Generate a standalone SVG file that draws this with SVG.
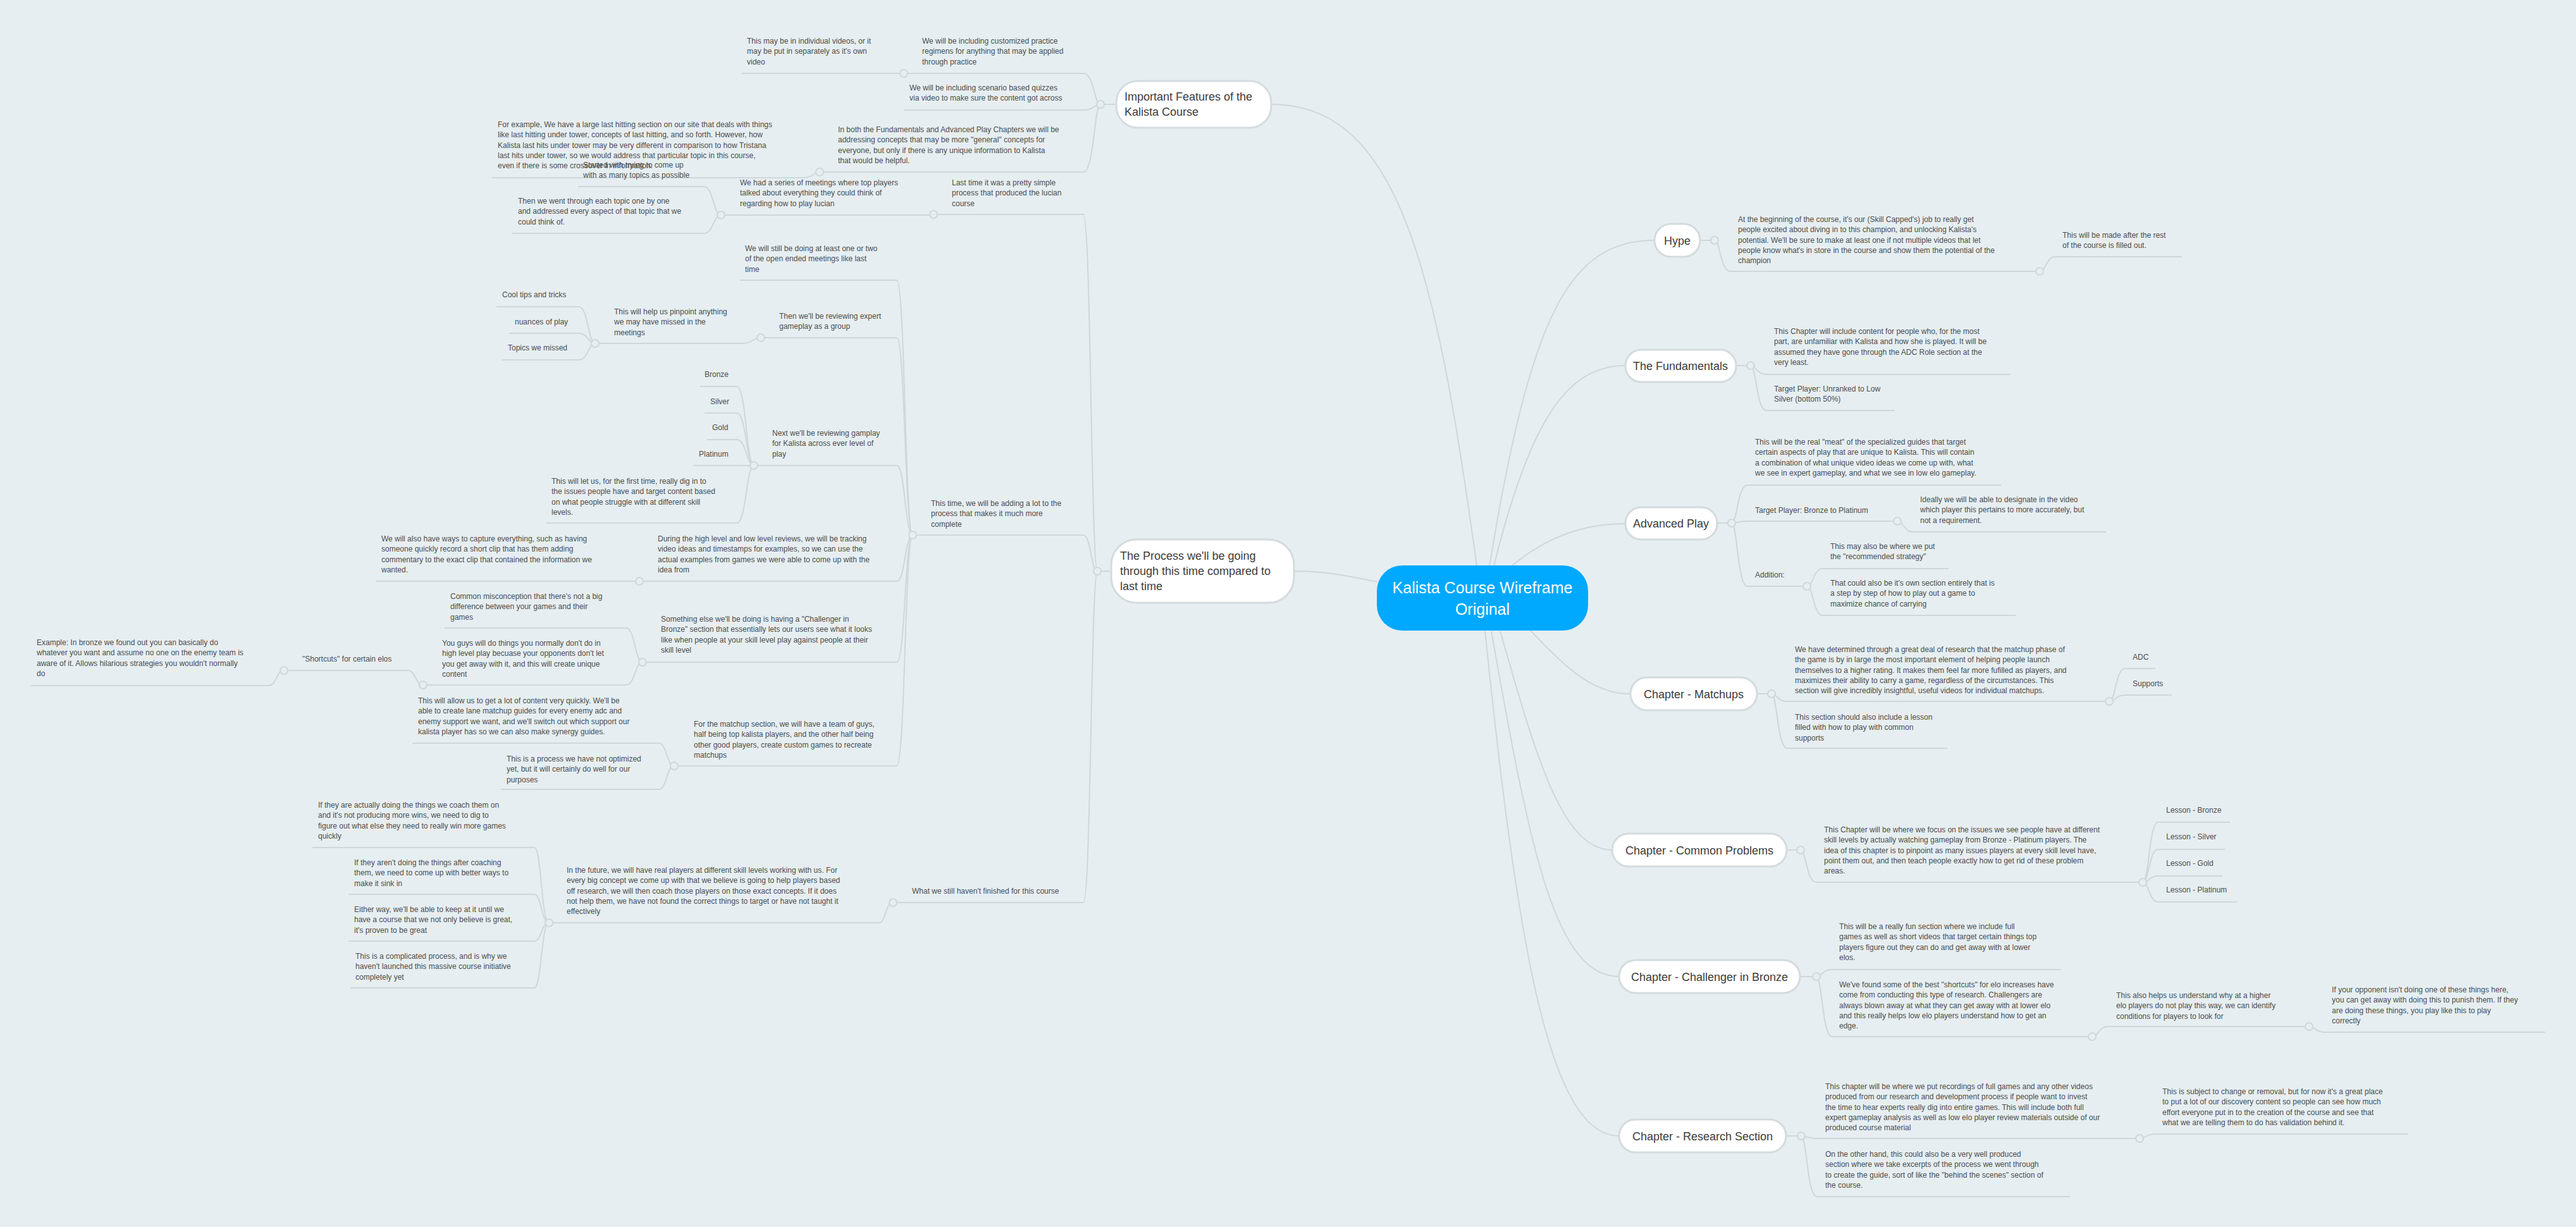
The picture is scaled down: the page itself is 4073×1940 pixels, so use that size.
<svg xmlns="http://www.w3.org/2000/svg" width="4073" height="1940" viewBox="0 0 4073 1940">
<style>
.t{font-family:"Liberation Sans",Arial,sans-serif;font-size:12px;fill:#4d4d4d}
.tt{font-family:"Liberation Sans",Arial,sans-serif;font-size:18px;fill:#3c3c3c}
.ct{font-family:"Liberation Sans",Arial,sans-serif;font-size:25px;fill:#ffffff}
.ln{stroke:#cfd7db;stroke-width:2;fill:none}
.cn{stroke:#cfd7db;stroke-width:2;fill:none}
.j{fill:#e6eef1;stroke:#cfd7db;stroke-width:2}
.pill{fill:#ffffff;stroke:#d4dbde;stroke-width:3}
</style>
<rect width="4073" height="1940" fill="#e6eef1"/>
<g id="connectors">
<path class="cn" d="M2335 895 C2270 420 2210 165 2010 165"/>
<path class="cn" d="M2178 920 C2120 908 2090 903 2046 903"/>
<path class="cn" d="M2355 895 C2420 500 2480 380 2616 380"/>
<path class="cn" d="M2362 895 C2420 660 2480 578 2570 578"/>
<path class="cn" d="M2390 895 C2450 845 2510 828 2570 828"/>
<path class="cn" d="M2420 997 C2480 1060 2520 1097 2578 1097"/>
<path class="cn" d="M2372 998 C2430 1200 2470 1344 2550 1344"/>
<path class="cn" d="M2358 998 C2420 1350 2460 1544 2560 1544"/>
<path class="cn" d="M2348 998 C2400 1500 2450 1796 2560 1796"/>
<!-- features -->
<path class="cn" d="M1765 165 L1746 165"/>
<path class="cn" d="M1740 165 C1730 165 1730 116 1713 116"/>
<path class="cn" d="M1740 165 C1730 165 1730 174 1713 174"/>
<path class="cn" d="M1740 165 C1730 165 1730 272 1713 272"/>
<path class="cn" d="M1296 272 C1286 272 1286 281 1270 281"/>
<!-- process -->
<path class="cn" d="M1757 903 L1741 903"/>
<path class="cn" d="M1735 903 C1725 903 1725 339 1713 339"/>
<path class="cn" d="M1735 903 C1725 903 1725 846 1713 846"/>
<path class="cn" d="M1735 903 C1725 903 1725 1427 1713 1427"/>
<path class="cn" d="M1140 340 C1128 340 1128 295 1113 295"/>
<path class="cn" d="M1140 340 C1128 340 1128 369 1113 369"/>
<path class="cn" d="M1443 846 C1431 846 1431 443 1418 443"/>
<path class="cn" d="M1443 846 C1431 846 1431 534 1418 534"/>
<path class="cn" d="M1443 846 C1431 846 1431 736 1418 736"/>
<path class="cn" d="M1443 846 C1431 846 1431 919 1418 919"/>
<path class="cn" d="M1443 846 C1431 846 1431 1047 1418 1047"/>
<path class="cn" d="M1443 846 C1431 846 1431 1211 1418 1211"/>
<path class="cn" d="M1203 534 C1190 534 1190 543 1175 543"/>
<path class="cn" d="M941 543 C930 543 930 485 915 485"/>
<path class="cn" d="M941 543 C930 543 930 527 915 527"/>
<path class="cn" d="M941 543 C930 543 930 569 915 569"/>
<path class="cn" d="M1192 736 C1180 736 1180 611 1165 611"/>
<path class="cn" d="M1192 736 C1180 736 1180 653 1165 653"/>
<path class="cn" d="M1192 736 C1180 736 1180 695 1165 695"/>
<path class="cn" d="M1192 736 L1165 736"/>
<path class="cn" d="M1192 736 C1180 736 1180 827 1165 827"/>
<path class="cn" d="M1016 1047 C1004 1047 1004 993 990 993"/>
<path class="cn" d="M1016 1047 C1004 1047 1004 1083 990 1083"/>
<path class="cn" d="M669 1083 C657 1083 657 1060 645 1060"/>
<path class="cn" d="M449 1060 C437 1060 437 1084 425 1084"/>
<path class="cn" d="M1066 1211 C1054 1211 1054 1175 1042 1175"/>
<path class="cn" d="M1066 1211 C1054 1211 1054 1248 1042 1248"/>
<path class="cn" d="M1412 1427 C1400 1427 1400 1459 1390 1459"/>
<path class="cn" d="M868 1459 C856 1459 856 1340 845 1340"/>
<path class="cn" d="M868 1459 C856 1459 856 1414 845 1414"/>
<path class="cn" d="M868 1459 C856 1459 856 1488 845 1488"/>
<path class="cn" d="M868 1459 C856 1459 856 1562 845 1562"/>
<!-- right side -->
<path class="cn" d="M2688 380 L2705 380"/>
<path class="cn" d="M2711 380 C2720 380 2720 429 2736 429"/>
<path class="cn" d="M3225 429 C3235 429 3235 406 3250 406"/>
<path class="cn" d="M2745 578 L2762 578"/>
<path class="cn" d="M2768 578 C2777 578 2777 592 2793 592"/>
<path class="cn" d="M2768 578 C2777 578 2777 649 2793 649"/>
<path class="cn" d="M2715 827 L2732 827"/>
<path class="cn" d="M2738 827 C2747 827 2747 767 2763 767"/>
<path class="cn" d="M2738 827 C2747 827 2747 824 2763 824"/>
<path class="cn" d="M2738 827 C2747 827 2747 927 2763 927"/>
<path class="cn" d="M3000 824 C3010 824 3010 841 3025 841"/>
<path class="cn" d="M2857 927 C2867 927 2867 899 2882 899"/>
<path class="cn" d="M2857 927 C2867 927 2867 973 2882 973"/>
<path class="cn" d="M2778 1097 L2795 1097"/>
<path class="cn" d="M2801 1097 C2810 1097 2810 1109 2826 1109"/>
<path class="cn" d="M2801 1097 C2810 1097 2810 1183 2826 1183"/>
<path class="cn" d="M3335 1109 C3345 1109 3345 1057 3360 1057"/>
<path class="cn" d="M3335 1109 C3345 1109 3345 1099 3360 1099"/>
<path class="cn" d="M2825 1344 L2841 1344"/>
<path class="cn" d="M2847 1344 C2856 1344 2856 1395 2872 1395"/>
<path class="cn" d="M3388 1395 C3398 1395 3398 1300 3412 1300"/>
<path class="cn" d="M3388 1395 C3398 1395 3398 1343 3412 1343"/>
<path class="cn" d="M3388 1395 C3398 1395 3398 1385 3412 1385"/>
<path class="cn" d="M3388 1395 C3398 1395 3398 1426 3412 1426"/>
<path class="cn" d="M2846 1544 L2866 1544"/>
<path class="cn" d="M2872 1544 C2881 1544 2881 1533 2897 1533"/>
<path class="cn" d="M2872 1544 C2881 1544 2881 1639 2897 1639"/>
<path class="cn" d="M3308 1639 C3318 1639 3318 1623 3333 1623"/>
<path class="cn" d="M3651 1623 C3661 1623 3661 1632 3676 1632"/>
<path class="cn" d="M2824 1796 L2842 1796"/>
<path class="cn" d="M2848 1796 C2857 1796 2857 1800 2873 1800"/>
<path class="cn" d="M2848 1796 C2857 1796 2857 1892 2873 1892"/>
<path class="cn" d="M3383 1800 C3393 1800 3393 1793 3408 1793"/>
</g>

<g id="central"><rect x="2177" y="894" width="334" height="103" rx="40" fill="#00a9fe"/>
<text class="ct" x="2344" y="938" text-anchor="middle">Kalista Course Wireframe</text><text class="ct" x="2344" y="972" text-anchor="middle">Original</text></g>

<g id="features"><rect class="pill" x="1765" y="128" width="245" height="74" rx="34"/>
<text class="tt" x="1778" y="159">Important Features of the</text><text class="tt" x="1778" y="183">Kalista Course</text><circle class="j" cx="1740" cy="165" r="6"/></g>
<g id="n1"><text class="t" x="1181" y="69">This may be in individual videos, or it<tspan x="1181" dy="16.3">may be put in separately as it's own</tspan><tspan x="1181" dy="16.3">video</tspan></text><path class="ln" d="M1173 116 H1423"/></g>
<g id="n2"><text class="t" x="1458" y="69">We will be including customized practice<tspan x="1458" dy="16.3">regimens for anything that may be applied</tspan><tspan x="1458" dy="16.3">through practice</tspan></text><path class="ln" d="M1435 116 H1713"/><circle class="j" cx="1429" cy="116" r="6"/></g>
<g id="n3"><text class="t" x="1438" y="143">We will be including scenario based quizzes<tspan x="1438" dy="16.3">via video to make sure the content got across</tspan></text><path class="ln" d="M1429 174 H1713"/></g>
<g id="n4"><text class="t" x="1325" y="209">In both the Fundamentals and Advanced Play Chapters we will be<tspan x="1325" dy="16.3">addressing concepts that may be more "general" concepts for</tspan><tspan x="1325" dy="16.3">everyone, but only if there is any unique information to Kalista</tspan><tspan x="1325" dy="16.3">that would be helpful.</tspan></text><path class="ln" d="M1302 272 H1713"/><circle class="j" cx="1296" cy="272" r="6"/></g>
<g id="n5"><text class="t" x="787" y="201">For example, We have a large last hitting section on our site that deals with things<tspan x="787" dy="16.3">like last hitting under tower, concepts of last hitting, and so forth.  However, how</tspan><tspan x="787" dy="16.3">Kalista last hits under tower may be very different in comparison to how Tristana</tspan><tspan x="787" dy="16.3">last hits under tower, so we would address that particular topic in this course,</tspan><tspan x="787" dy="16.3">even if there is some crossover in information.</tspan></text><path class="ln" d="M778 281 H1270"/></g>

<g id="process"><rect class="pill" x="1757" y="853" width="289" height="100" rx="40"/>
<text class="tt" x="1771" y="885">The Process we'll be going</text><text class="tt" x="1771" y="909">through this time compared to</text><text class="tt" x="1771" y="933">last time</text><circle class="j" cx="1735" cy="903" r="6"/></g>
<g id="p1"><text class="t" x="1505" y="293">Last time it was a pretty simple<tspan x="1505" dy="16.3">process that produced the lucian</tspan><tspan x="1505" dy="16.3">course</tspan></text><path class="ln" d="M1482 339 H1713"/><circle class="j" cx="1476" cy="339" r="6"/></g>
<g id="p1a"><text class="t" x="1170" y="293">We had a series of meetings where top players<tspan x="1170" dy="16.3">talked about everything they could think of</tspan><tspan x="1170" dy="16.3">regarding how to play lucian</tspan></text><path class="ln" d="M1146 340 H1470"/><circle class="j" cx="1140" cy="340" r="6"/></g>
<g id="p1a1"><text class="t" x="922" y="265">Started with trying to come up<tspan x="922" dy="16.3">with as many topics as possible</tspan></text><path class="ln" d="M914 295 H1113"/></g>
<g id="p1a2"><text class="t" x="819" y="322">Then we went through each topic one by one<tspan x="819" dy="16.3">and addressed every aspect of that topic that we</tspan><tspan x="819" dy="16.3">could think of.</tspan></text><path class="ln" d="M810 369 H1113"/></g>
<g id="p2"><text class="t" x="1472" y="800">This time, we will be adding a lot to the<tspan x="1472" dy="16.3">process that makes it much more</tspan><tspan x="1472" dy="16.3">complete</tspan></text><path class="ln" d="M1449 846 H1713"/><circle class="j" cx="1443" cy="846" r="6"/></g>
<g id="q1"><text class="t" x="1178" y="397">We will still be doing at least one or two<tspan x="1178" dy="16.3">of the open ended meetings like last</tspan><tspan x="1178" dy="16.3">time</tspan></text><path class="ln" d="M1170 443 H1418"/></g>
<g id="q2"><text class="t" x="1232" y="504">Then we'll be reviewing expert<tspan x="1232" dy="16.3">gameplay as a group</tspan></text><path class="ln" d="M1209 534 H1418"/><circle class="j" cx="1203" cy="534" r="6"/></g>
<g id="q2a"><text class="t" x="971" y="497">This will help us pinpoint anything<tspan x="971" dy="16.3">we may have missed in the</tspan><tspan x="971" dy="16.3">meetings</tspan></text><path class="ln" d="M947 543 H1175"/><circle class="j" cx="941" cy="543" r="6"/></g>
<g id="q2a1"><text class="t" x="794" y="470">Cool tips and tricks</text><path class="ln" d="M785 485 H915"/></g>
<g id="q2a2"><text class="t" x="814" y="513">nuances of play</text><path class="ln" d="M805 527 H915"/></g>
<g id="q2a3"><text class="t" x="803" y="554">Topics we missed</text><path class="ln" d="M794 569 H915"/></g>
<g id="q3"><text class="t" x="1221" y="689">Next we'll be reviewing gamplay<tspan x="1221" dy="16.3">for Kalista across ever level of</tspan><tspan x="1221" dy="16.3">play</tspan></text><path class="ln" d="M1198 736 H1418"/><circle class="j" cx="1192" cy="736" r="6"/></g>
<g id="q3a"><text class="t" x="1114" y="596">Bronze</text><path class="ln" d="M1107 611 H1165"/></g>
<g id="q3b"><text class="t" x="1123" y="639">Silver</text><path class="ln" d="M1114 653 H1165"/></g>
<g id="q3c"><text class="t" x="1126" y="680">Gold</text><path class="ln" d="M1118 695 H1165"/></g>
<g id="q3d"><text class="t" x="1105" y="722">Platinum</text><path class="ln" d="M1096 736 H1165"/></g>
<g id="q3e"><text class="t" x="872" y="765">This will let us, for the first time, really dig in to<tspan x="872" dy="16.3">the issues people have and target content based</tspan><tspan x="872" dy="16.3">on what people struggle with at different skill</tspan><tspan x="872" dy="16.3">levels.</tspan></text><path class="ln" d="M864 827 H1165"/></g>
<g id="q4"><text class="t" x="1040" y="856">During the high level and low level reviews, we will be tracking<tspan x="1040" dy="16.3">video ideas and timestamps for examples, so we can use the</tspan><tspan x="1040" dy="16.3">actual examples from games we were able to come up with the</tspan><tspan x="1040" dy="16.3">idea from</tspan></text><path class="ln" d="M1017 919 H1418"/><circle class="j" cx="1011" cy="919" r="6"/></g>
<g id="q4a"><text class="t" x="603" y="856">We will also have ways to capture everything, such as having<tspan x="603" dy="16.3">someone quickly record a short clip that has them adding</tspan><tspan x="603" dy="16.3">commentary to the exact clip that contained the information we</tspan><tspan x="603" dy="16.3">wanted.</tspan></text><path class="ln" d="M594 919 H1005"/></g>
<g id="q5"><text class="t" x="1045" y="983">Something else we'll be doing is having a "Challenger in<tspan x="1045" dy="16.3">Bronze" section that essentially lets our users see what it looks</tspan><tspan x="1045" dy="16.3">like when people at your skill level play against people at their</tspan><tspan x="1045" dy="16.3">skill level</tspan></text><path class="ln" d="M1022 1047 H1418"/><circle class="j" cx="1016" cy="1047" r="6"/></g>
<g id="q5a"><text class="t" x="712" y="947">Common misconception that there's not a big<tspan x="712" dy="16.3">difference between your games and their</tspan><tspan x="712" dy="16.3">games</tspan></text><path class="ln" d="M703 993 H990"/></g>
<g id="q5b"><text class="t" x="699" y="1021">You guys will do things you normally don't do in<tspan x="699" dy="16.3">high level play becuase your opponents don't let</tspan><tspan x="699" dy="16.3">you get away with it, and this will create unique</tspan><tspan x="699" dy="16.3">content</tspan></text><path class="ln" d="M675 1083 H990"/><circle class="j" cx="669" cy="1083" r="6"/></g>
<g id="q5b1"><text class="t" x="478" y="1046">"Shortcuts" for certain elos</text><path class="ln" d="M455 1060 H645"/><circle class="j" cx="449" cy="1060" r="6"/></g>
<g id="q5b1a"><text class="t" x="58" y="1020">Example:  In bronze we found out you can basically do<tspan x="58" dy="16.3">whatever you want and assume no one on the enemy team is</tspan><tspan x="58" dy="16.3">aware of it.  Allows hilarious strategies you wouldn't normally</tspan><tspan x="58" dy="16.3">do</tspan></text><path class="ln" d="M49 1084 H425"/></g>
<g id="q6"><text class="t" x="1097" y="1149">For the matchup section, we will have a team of guys,<tspan x="1097" dy="16.3">half being top kalista players, and the other half being</tspan><tspan x="1097" dy="16.3">other good players, create custom games to recreate</tspan><tspan x="1097" dy="16.3">matchups</tspan></text><path class="ln" d="M1072 1211 H1418"/><circle class="j" cx="1066" cy="1211" r="6"/></g>
<g id="q6a"><text class="t" x="661" y="1112">This will allow us to get a lot of content very quickly.  We'll be<tspan x="661" dy="16.3">able to create lane matchup guides for every enemy adc and</tspan><tspan x="661" dy="16.3">enemy support we want, and we'll switch out which support our</tspan><tspan x="661" dy="16.3">kalista player has so we can also make synergy guides.</tspan></text><path class="ln" d="M652 1175 H1042"/></g>
<g id="q6b"><text class="t" x="801" y="1204">This is a process we have not optimized<tspan x="801" dy="16.3">yet, but it will certainly do well for our</tspan><tspan x="801" dy="16.3">purposes</tspan></text><path class="ln" d="M792 1248 H1042"/></g>
<g id="p3"><text class="t" x="1442" y="1413">What we still haven't finished for this course</text><path class="ln" d="M1418 1427 H1713"/><circle class="j" cx="1412" cy="1427" r="6"/></g>
<g id="p3a"><text class="t" x="896" y="1380">In the future, we will have real players at different skill levels working with us.  For<tspan x="896" dy="16.3">every big concept we come up with that we believe is going to help players based</tspan><tspan x="896" dy="16.3">off research, we will then coach those players on those exact concepts.  If it does</tspan><tspan x="896" dy="16.3">not help them, we have not found the correct things to target or have not taught it</tspan><tspan x="896" dy="16.3">effectively</tspan></text><path class="ln" d="M874 1459 H1390"/><circle class="j" cx="868" cy="1459" r="6"/></g>
<g id="p3a1"><text class="t" x="503" y="1277">If they are actually doing the things we coach them on<tspan x="503" dy="16.3">and it's not producing more wins, we need to dig to</tspan><tspan x="503" dy="16.3">figure out what else they  need to really win more games</tspan><tspan x="503" dy="16.3">quickly</tspan></text><path class="ln" d="M494 1340 H845"/></g>
<g id="p3a2"><text class="t" x="560" y="1368">If they aren't doing the things after coaching<tspan x="560" dy="16.3">them, we need to come up with better ways to</tspan><tspan x="560" dy="16.3">make it sink in</tspan></text><path class="ln" d="M551 1414 H845"/></g>
<g id="p3a3"><text class="t" x="560" y="1442">Either way, we'll be able to keep at it until we<tspan x="560" dy="16.3">have a course that we not only believe is great,</tspan><tspan x="560" dy="16.3">it's proven to be great</tspan></text><path class="ln" d="M551 1488 H845"/></g>
<g id="p3a4"><text class="t" x="562" y="1516">This is a complicated process, and is why we<tspan x="562" dy="16.3">haven't launched this massive course initiative</tspan><tspan x="562" dy="16.3">completely yet</tspan></text><path class="ln" d="M554 1562 H845"/></g>

<g id="hype"><rect class="pill" x="2616" y="354" width="72" height="52" rx="26"/><text class="tt" x="2652" y="387" text-anchor="middle">Hype</text><circle class="j" cx="2711" cy="380" r="6"/></g>
<g id="h1"><text class="t" x="2748" y="351">At the beginning of the course, it's our (Skill Capped's) job to really get<tspan x="2748" dy="16.3">people excited about diving in to this champion, and unlocking Kalista's</tspan><tspan x="2748" dy="16.3">potential.  We'll be sure to make at least one if not multiple videos that let</tspan><tspan x="2748" dy="16.3">people know what's in store in the course and show them the potential of the</tspan><tspan x="2748" dy="16.3">champion</tspan></text><path class="ln" d="M2736 429 H3219"/><circle class="j" cx="3225" cy="429" r="6"/></g>
<g id="h1a"><text class="t" x="3261" y="376">This will be made after the rest<tspan x="3261" dy="16.3">of the course is filled out.</tspan></text><path class="ln" d="M3250 406 H3450"/></g>
<g id="fund"><rect class="pill" x="2570" y="553" width="175" height="51" rx="25"/><text class="tt" x="2657" y="585" text-anchor="middle">The Fundamentals</text><circle class="j" cx="2768" cy="578" r="6"/></g>
<g id="f1"><text class="t" x="2805" y="528">This Chapter will include content for people who, for the most<tspan x="2805" dy="16.3">part, are unfamiliar with Kalista and how she is played.  It will be</tspan><tspan x="2805" dy="16.3">assumed they have gone through the ADC Role section at the</tspan><tspan x="2805" dy="16.3">very least.</tspan></text><path class="ln" d="M2793 592 H3179"/></g>
<g id="f2"><text class="t" x="2805" y="619">Target Player:  Unranked to Low<tspan x="2805" dy="16.3">Silver (bottom 50%)</tspan></text><path class="ln" d="M2793 649 H2996"/></g>
<g id="adv"><rect class="pill" x="2570" y="802" width="145" height="51" rx="25"/><text class="tt" x="2642" y="834" text-anchor="middle">Advanced Play</text><circle class="j" cx="2738" cy="827" r="6"/></g>
<g id="a1"><text class="t" x="2775" y="703">This will be the real "meat" of the specialized guides that target<tspan x="2775" dy="16.3">certain aspects of play that are unique to Kalista.  This will contain</tspan><tspan x="2775" dy="16.3">a combination of what unique video ideas we come up with, what</tspan><tspan x="2775" dy="16.3">we see in expert gameplay, and what we see in low elo gameplay.</tspan></text><path class="ln" d="M2763 767 H3164"/></g>
<g id="a2"><text class="t" x="2775" y="811">Target Player:  Bronze to Platinum</text><path class="ln" d="M2763 824 H2994"/><circle class="j" cx="3000" cy="824" r="6"/></g>
<g id="a2a"><text class="t" x="3036" y="794">Ideally we will be able to designate in the video<tspan x="3036" dy="16.3">which player this pertains to more accurately, but</tspan><tspan x="3036" dy="16.3">not a requirement.</tspan></text><path class="ln" d="M3025 841 H3330"/></g>
<g id="a3"><text class="t" x="2775" y="913">Addition:</text><path class="ln" d="M2763 927 H2851"/><circle class="j" cx="2857" cy="927" r="6"/></g>
<g id="a3a"><text class="t" x="2894" y="868">This may also be where we put<tspan x="2894" dy="16.3">the "recommended strategy"</tspan></text><path class="ln" d="M2882 899 H3081"/></g>
<g id="a3b"><text class="t" x="2894" y="926">That could also be it's own section entirely that is<tspan x="2894" dy="16.3">a step by step of how to play out a game to</tspan><tspan x="2894" dy="16.3">maximize chance of carrying</tspan></text><path class="ln" d="M2882 973 H3187"/></g>
<g id="match"><rect class="pill" x="2578" y="1071" width="200" height="52" rx="26"/><text class="tt" x="2678" y="1104" text-anchor="middle">Chapter - Matchups</text><circle class="j" cx="2801" cy="1097" r="6"/></g>
<g id="m1"><text class="t" x="2838" y="1031">We have determined through a great deal of research that the matchup phase of<tspan x="2838" dy="16.3">the game is by in large the most important element of helping people launch</tspan><tspan x="2838" dy="16.3">themselves to a higher rating.  It makes them feel far more fufilled as players, and</tspan><tspan x="2838" dy="16.3">maximizes their ability to carry a game, regardless of the circumstances.  This</tspan><tspan x="2838" dy="16.3">section will give incredibly insightful, useful videos for individual matchups.</tspan></text><path class="ln" d="M2826 1109 H3329"/><circle class="j" cx="3335" cy="1109" r="6"/></g>
<g id="m1a"><text class="t" x="3372" y="1043">ADC</text><path class="ln" d="M3360 1057 H3408"/></g>
<g id="m1b"><text class="t" x="3372" y="1085">Supports</text><path class="ln" d="M3360 1099 H3434"/></g>
<g id="m2"><text class="t" x="2838" y="1138">This section should also include a lesson<tspan x="2838" dy="16.3">filled with how to play with common</tspan><tspan x="2838" dy="16.3">supports</tspan></text><path class="ln" d="M2826 1183 H3079"/></g>
<g id="cp"><rect class="pill" x="2549" y="1318" width="276" height="52" rx="26"/><text class="tt" x="2687" y="1351" text-anchor="middle">Chapter - Common Problems</text><circle class="j" cx="2847" cy="1344" r="6"/></g>
<g id="c1"><text class="t" x="2884" y="1316">This Chapter will be where we focus on the issues we see people have at different<tspan x="2884" dy="16.3">skill levels by actually watching gameplay from Bronze - Platinum players.  The</tspan><tspan x="2884" dy="16.3">idea of this chapter is to pinpoint as many issues players at every skill level have,</tspan><tspan x="2884" dy="16.3">point them out, and then teach people exactly how to get rid of these problem</tspan><tspan x="2884" dy="16.3">areas.</tspan></text><path class="ln" d="M2872 1395 H3382"/><circle class="j" cx="3388" cy="1395" r="6"/></g>
<g id="c1a"><text class="t" x="3425" y="1285">Lesson - Bronze</text><path class="ln" d="M3412 1300 H3526"/></g>
<g id="c1b"><text class="t" x="3425" y="1327">Lesson - Silver</text><path class="ln" d="M3412 1343 H3518"/></g>
<g id="c1c"><text class="t" x="3425" y="1369">Lesson - Gold</text><path class="ln" d="M3412 1385 H3514"/></g>
<g id="c1d"><text class="t" x="3425" y="1411">Lesson - Platinum</text><path class="ln" d="M3412 1426 H3537"/></g>
<g id="cb"><rect class="pill" x="2560" y="1518" width="286" height="52" rx="26"/><text class="tt" x="2703" y="1551" text-anchor="middle">Chapter - Challenger in Bronze</text><circle class="j" cx="2872" cy="1544" r="6"/></g>
<g id="b1"><text class="t" x="2908" y="1469">This will be a really fun section where we include full<tspan x="2908" dy="16.3">games as well as short videos that target certain things top</tspan><tspan x="2908" dy="16.3">players figure out they can do and get away with at lower</tspan><tspan x="2908" dy="16.3">elos.</tspan></text><path class="ln" d="M2897 1533 H3259"/></g>
<g id="b2"><text class="t" x="2908" y="1561">We've found some of the best "shortcuts" for elo increases have<tspan x="2908" dy="16.3">come from conducting this type of research.  Challengers are</tspan><tspan x="2908" dy="16.3">always blown away at what they can get away with at lower elo</tspan><tspan x="2908" dy="16.3">and this really helps low elo players understand how to get an</tspan><tspan x="2908" dy="16.3">edge.</tspan></text><path class="ln" d="M2897 1639 H3302"/><circle class="j" cx="3308" cy="1639" r="6"/></g>
<g id="b2a"><text class="t" x="3346" y="1578">This also helps us understand why at a higher<tspan x="3346" dy="16.3">elo players do not play this way, we can identify</tspan><tspan x="3346" dy="16.3">conditions for players to look for</tspan></text><path class="ln" d="M3333 1623 H3645"/><circle class="j" cx="3651" cy="1623" r="6"/></g>
<g id="b2a1"><text class="t" x="3687" y="1569">If your opponent isn't doing one of these things here,<tspan x="3687" dy="16.3">you can get away with doing this to punish them.  If they</tspan><tspan x="3687" dy="16.3">are doing these things, you play like this to play</tspan><tspan x="3687" dy="16.3">correctly</tspan></text><path class="ln" d="M3676 1632 H4024"/></g>
<g id="rs"><rect class="pill" x="2560" y="1770" width="264" height="52" rx="26"/><text class="tt" x="2692" y="1803" text-anchor="middle">Chapter - Research Section</text><circle class="j" cx="2848" cy="1796" r="6"/></g>
<g id="r1"><text class="t" x="2886" y="1722">This chapter will be where we put recordings of full games and any other videos<tspan x="2886" dy="16.3">produced from our research and development process if people want to invest</tspan><tspan x="2886" dy="16.3">the time to hear experts really dig into entire games.  This will include both full</tspan><tspan x="2886" dy="16.3">expert gameplay analysis as well as low elo player review materials outside of our</tspan><tspan x="2886" dy="16.3">produced course material</tspan></text><path class="ln" d="M2873 1800 H3377"/><circle class="j" cx="3383" cy="1800" r="6"/></g>
<g id="r1a"><text class="t" x="3419" y="1730">This is subject to change or removal, but for now it's a great place<tspan x="3419" dy="16.3">to put a lot of our discovery content so people can see how much</tspan><tspan x="3419" dy="16.3">effort everyone put in to the creation of the course and see that</tspan><tspan x="3419" dy="16.3">what we are telling them to do has validation behind it.</tspan></text><path class="ln" d="M3408 1793 H3808"/></g>
<g id="r2"><text class="t" x="2886" y="1829">On the other hand, this could also be a very well produced<tspan x="2886" dy="16.3">section where we take excerpts of the process we went through</tspan><tspan x="2886" dy="16.3">to create the guide, sort of like the "behind the scenes" section of</tspan><tspan x="2886" dy="16.3">the course.</tspan></text><path class="ln" d="M2873 1892 H3273"/></g>
</svg>
